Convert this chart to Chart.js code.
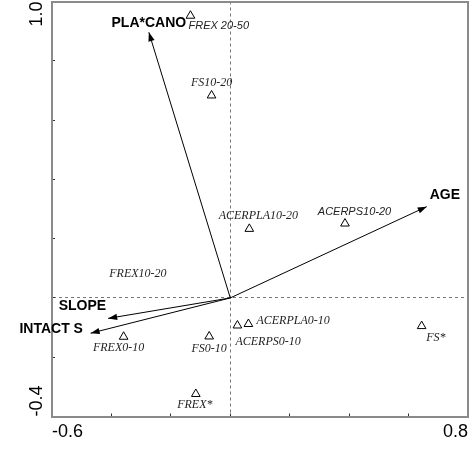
<!DOCTYPE html>
<html>
<head>
<meta charset="utf-8">
<script src="https://cdn.jsdelivr.net/npm/chart.js@4"></script>
<style>
  html, body { margin: 0; padding: 0; background: #fff; }
  canvas { display: block; }
</style>
</head>
<body>
<canvas id="chart" width="474" height="464"></canvas>
<script>
// axis extents of the ordination diagram
const xRange = [-0.6, 0.8];
const yRange = [-0.4, 1.0];
const tickStep = 0.2;

// environmental variables, drawn as arrows from the origin
const envNames = ['PLA*CANO', 'AGE', 'SLOPE', 'INTACT S'];
const envX = [-0.274, 0.661, -0.411, -0.470];
const envY = [0.896, 0.308, -0.069, -0.119];

// samples, drawn as open triangles
const sampleNames = ['FREX 20-50', 'FS10-20', 'ACERPLA10-20', 'ACERPS10-20', 'FREX10-20',
  'FREX0-10', 'FS0-10', 'FREX*', 'ACERPS0-10', 'ACERPLA0-10', 'FS*'];
const sampleX = [-0.134, -0.063, 0.064, 0.386, -0.311, -0.359, -0.071, -0.116, 0.024, 0.061, 0.644];
const sampleY = [0.952, 0.683, 0.233, 0.251, 0.081, -0.131, -0.130, -0.324, -0.093, -0.088, -0.095];

// where each label sits relative to its mark: [align, dx, dy, font]
const serif = 'italic 12px "Liberation Serif", "Times New Roman", serif';
const sans = 'italic 11px "Liberation Sans", Arial, sans-serif';
const samplePlace = {
  'FREX 20-50': ['left', -2, 10.5, sans],
  'FS10-20': ['center', 0, -13, serif],
  'ACERPLA10-20': ['center', 9, -13, serif],
  'ACERPS10-20': ['center', 9.5, -12, sans],
  'FREX10-20': ['center', 0, 0, serif],
  'FREX0-10': ['center', -5, 11, serif],
  'FS0-10': ['center', 0, 12, serif],
  'FREX*': ['center', -1, 11, serif],
  'ACERPS0-10': ['left', -2, 16, serif],
  'ACERPLA0-10': ['left', 8, -3, serif],
  'FS*': ['left', 4.5, 11.5, serif]
};
const envPlace = {
  'PLA*CANO': ['center', 0, -9.6],
  'AGE': ['left', 3, -11.7],
  'SLOPE': ['right', -2, -12.3],
  'INTACT S': ['right', -7.7, -4]
};

const frameColor = '#8a8a8a';
const tickFont = { family: '"Liberation Sans", Arial, sans-serif', size: 18 };

function near(a, b) { return Math.abs(a - b) < 1e-6; }

// arrowheads and text labels
const biplotMarks = {
  id: 'biplotMarks',
  afterDraw(chart) {
    const ctx = chart.ctx;
    const xs = chart.scales.x, ys = chart.scales.y;
    const ox = xs.getPixelForValue(0), oy = ys.getPixelForValue(0);
    ctx.save();
    ctx.fillStyle = '#000';
    envNames.forEach((name, i) => {
      const tx = xs.getPixelForValue(envX[i]);
      const ty = ys.getPixelForValue(envY[i]);
      const d = Math.hypot(tx - ox, ty - oy);
      const ux = (tx - ox) / d, uy = (ty - oy) / d;
      const len = 9, half = 3.2;
      ctx.beginPath();
      ctx.moveTo(tx, ty);
      ctx.lineTo(tx - len * ux - half * uy, ty - len * uy + half * ux);
      ctx.lineTo(tx - len * ux + half * uy, ty - len * uy - half * ux);
      ctx.closePath();
      ctx.fill();

      const p = envPlace[name];
      ctx.font = 'bold 14px "Liberation Sans", Arial, sans-serif';
      ctx.textAlign = p[0];
      ctx.textBaseline = 'middle';
      ctx.fillText(name, tx + p[1], ty + p[2]);
    });

    ctx.fillStyle = '#222';
    sampleNames.forEach((name, i) => {
      const px = xs.getPixelForValue(sampleX[i]);
      const py = ys.getPixelForValue(sampleY[i]);
      const p = samplePlace[name];
      ctx.font = p[3];
      ctx.textAlign = p[0];
      ctx.textBaseline = 'middle';
      ctx.fillText(name, px + p[1], py + p[2]);
    });
    ctx.restore();
  }
};

const arrowSets = envNames.map((name, i) => ({
  label: name,
  data: [{ x: 0, y: 0 }, { x: envX[i], y: envY[i] }],
  showLine: true,
  borderColor: '#000',
  borderWidth: 1,
  pointRadius: 0
}));

const sampleSet = {
  label: 'samples',
  data: sampleNames.map((n, i) => ({ x: sampleX[i], y: sampleY[i] })),
  pointStyle: 'triangle',
  // FREX10-20 only has its label in the original
  pointRadius: c => sampleNames[c.dataIndex] === 'FREX10-20' ? 0 : 5,
  borderColor: '#000',
  borderWidth: 1,
  backgroundColor: '#fff'
};

// dashed zero lines come from the grid, every other grid line is hidden
const zeroGrid = c => (c.tick && near(c.tick.value, 0)) ? '#777' : 'rgba(0,0,0,0)';

new Chart(document.getElementById('chart'), {
  type: 'scatter',
  data: { datasets: [...arrowSets, sampleSet] },
  options: {
    responsive: false,
    animation: false,
    events: [],
    layout: { autoPadding: false, padding: { top: 1.5, right: 6, bottom: 0, left: 0 } },
    plugins: { legend: { display: false }, tooltip: { enabled: false } },
    scales: {
      x: {
        type: 'linear', position: 'bottom', min: xRange[0], max: xRange[1],
        ticks: {
          stepSize: tickStep, autoSkip: false, maxRotation: 0, align: 'inner',
          padding: 7.7, color: '#000', font: tickFont,
          callback: v => (near(v, xRange[0]) || near(v, xRange[1])) ? v.toFixed(1) : ''
        },
        grid: { color: zeroGrid, lineWidth: 1, drawTicks: true, tickLength: -3, tickColor: '#333', tickWidth: 1 },
        border: { display: true, color: frameColor, width: 2, dash: [3, 3] },
        afterFit(s) { s.height = 47.5; s.paddingLeft = 0; s.paddingRight = 0; }
      },
      // inner left axis: frame line, tick marks, zero line and the top label
      y: {
        type: 'linear', position: 'left', weight: 1, min: yRange[0], max: yRange[1],
        ticks: {
          stepSize: tickStep, autoSkip: false, minRotation: 90, maxRotation: 90,
          crossAlign: 'near', align: 'start', padding: 27, color: '#000', font: tickFont,
          callback: v => near(v, yRange[1]) ? v.toFixed(1) : ''
        },
        grid: { color: zeroGrid, lineWidth: 1, drawTicks: true, tickLength: -3, tickColor: '#333', tickWidth: 1 },
        border: { display: true, color: frameColor, width: 2, dash: [3, 3] },
        afterFit(s) { s.width = 24; s.paddingTop = 0; s.paddingBottom = 0; }
      },
      // outer left axis only carries the bottom label, reading upwards
      yLow: {
        type: 'linear', position: 'left', weight: 2, min: yRange[0], max: yRange[1],
        ticks: {
          stepSize: tickStep, autoSkip: false, minRotation: 90, maxRotation: 90, mirror: true,
          crossAlign: 'near', align: 'start', padding: 0, color: '#000', font: tickFont,
          callback: v => near(v, yRange[0]) ? v.toFixed(1) : ''
        },
        grid: { display: false, drawTicks: false },
        border: { display: false },
        afterFit(s) { s.width = 28; s.paddingTop = 0; s.paddingBottom = 0; }
      },
      yRight: {
        type: 'linear', position: 'right', min: yRange[0], max: yRange[1],
        ticks: { display: false },
        grid: { display: false, drawTicks: false },
        border: { display: true, color: frameColor, width: 2 },
        afterFit(s) { s.width = 0; }
      },
      xTop: {
        type: 'linear', position: 'top', min: xRange[0], max: xRange[1],
        ticks: { display: false },
        grid: { display: false, drawTicks: false },
        border: { display: true, color: frameColor, width: 2 },
        afterFit(s) { s.height = 0; }
      }
    }
  },
  plugins: [biplotMarks]
});
</script>
</body>
</html>
